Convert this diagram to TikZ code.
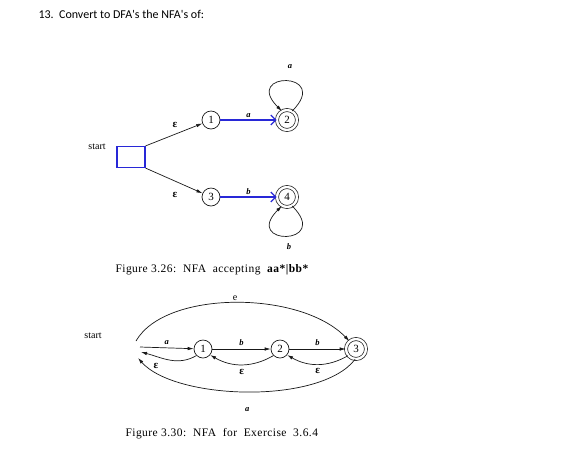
\documentclass[tikz,border=0pt]{standalone}
\usepackage{fontspec}
\setmainfont{Liberation Serif}
\newfontfamily\headfont{Carlito}
\usepackage{tikz}
\usetikzlibrary{arrows.meta, positioning, calc}
\definecolor{EdgeBlue}{RGB}{40,40,215}
\definecolor{InkBlack}{RGB}{25,25,25}
\tikzset{
  state/.style={draw=InkBlack, circle, line width=0.7pt, minimum size=18pt, inner sep=0pt, font=\fontsize{11}{11}\selectfont},
  accepting/.style={state, double=white, double distance=2.4pt, minimum size=20pt},
  trans/.style={draw=InkBlack, -{Latex[length=6pt,width=3.5pt]}, line width=0.7pt},
  bluetrans/.style={draw=EdgeBlue, -{Straight Barb[length=5pt,width=10pt]}, line width=1.2pt},
  lbl/.style={font=\fontsize{8.5}{8.5}\selectfont\itshape\bfseries, inner sep=1pt},
  eps/.style={font=\fontsize{11}{11}\selectfont\bfseries, inner sep=1pt},
  startlbl/.style={font=\fontsize{10}{10}\selectfont},
  caption/.style={font=\fontsize{11.5}{13}\selectfont\addfontfeature{LetterSpace=4}, anchor=west}
}
\begin{document}
\begin{tikzpicture}[x=1pt, y=-1pt]
\useasboundingbox (0,0) rectangle (564,448);
\node[font=\headfont\fontsize{12}{14}\selectfont, anchor=west] (title) at (35,14) {13.\ \ Convert to DFA's the NFA's of:};

% Figure 3.26
\node[startlbl] (start1) at (97,147) {start};
\node[draw=EdgeBlue, line width=1.2pt, minimum width=28pt, minimum height=21pt, inner sep=0pt] (s0) at (131,157) {};
\node[state] (s1) at (211,120) {1};
\node[accepting] (s2) at (287,120) {2};
\node[state] (s3) at (211,197) {3};
\node[accepting] (s4) at (287,197) {4};
\draw[trans] (s0.north east) -- (s1);
\draw[trans] (s0.south east) -- (s3);
\node[eps] (e1) at (175,125) {ε};
\node[eps] (e3) at (175,195) {ε};
\draw[bluetrans] (s1) -- (s2) node[lbl, midway, above=1pt] {a};
\draw[bluetrans] (s3) -- (s4) node[lbl, midway, above=1pt] {b};
\draw[trans] (s2.60) .. controls +(40,-40) and +(-40,-40) .. (s2.120);
\draw[trans] (s4.-60) .. controls +(40,40) and +(-40,40) .. (s4.-120);
\node[lbl] (la) at (290,67) {a};
\node[lbl] (lb) at (289,247) {b};
\node[caption] (cap1) at (112,270) {Figure 3.26:\ \ NFA\ \ accepting\ \ \textbf{aa*|bb*}};

% Figure 3.30
\node[startlbl] (start2) at (93,336) {start};
\coordinate (q0) at (137,347);
\node[state] (t1) at (203,349) {1};
\node[state] (t2) at (280,349) {2};
\node[accepting] (t3) at (356,349) {3};
\draw[trans] ($(q0)+(3,0)$) -- (t1) node[lbl, midway, above=2pt] {a};
\draw[trans] (t1) -- (t2) node[lbl, midway, above=2pt] {b};
\draw[trans] (t2) -- (t3) node[lbl, midway, above=2pt] {b};
\draw[trans] (t1.-135) to[out=210, in=-15] node[eps, pos=0.75, below=5pt] {ε} ($(q0)+(4,5)$);
\draw[trans] (t2.-135) to[out=210, in=-30] node[eps, below=3pt] {ε} (t1.-40);
\draw[trans] (t3.-140) to[out=210, in=-30] node[eps, below=3pt] {ε} (t2.-40);
\draw[trans] ($(q0)+(-1,-6)$) .. controls (165,290) and (300,290) .. node[eps, above=1pt, font=\fontsize{10}{10}\selectfont] {e} (t3.130);
\draw[trans] (t3.-95) .. controls (320,405) and (175,400) .. node[lbl, below=15pt] {a} ($(q0)+(1,11)$);
\node[caption] (cap2) at (122,434) {Figure 3.30:\ \ NFA\ \ for\ \ Exercise\ \ 3.6.4};
\end{tikzpicture}
\end{document}
